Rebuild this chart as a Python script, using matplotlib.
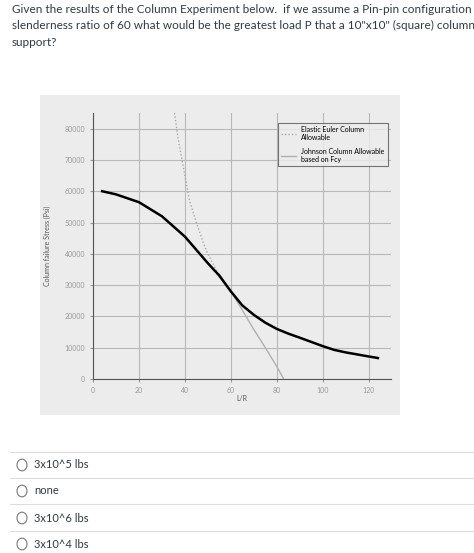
import matplotlib
matplotlib.use("Agg")
import matplotlib.pyplot as plt
from matplotlib.patches import Circle
from matplotlib.lines import Line2D

plt.rcParams['font.family'] = ['Lato', 'DejaVu Sans']

question = ("Given the results of the Column Experiment below.  if we assume a Pin-pin configuration and a\n"
            "slenderness ratio of 60 what would be the greatest load P that a 10\"x10\" (square) column can\n"
            "support?")
options = ["3x10^5 lbs", "none", "3x10^6 lbs", "3x10^4 lbs"]

lr_actual = [4, 10, 20, 30, 40, 50, 55, 60, 65, 70, 75, 80, 85, 90, 100, 105, 110, 120, 124]
stress_actual = [60000, 59000, 56500, 52000, 45500, 37000, 33000, 28000, 23500, 20500, 18000,
                 16000, 14500, 13200, 10500, 9300, 8500, 7200, 6700]
lr_euler = [35.5, 37, 40, 42, 45, 48, 50, 55, 60]
stress_euler = [85000, 77000, 65000, 57000, 50000, 43500, 40000, 33000, 28000]
lr_johnson = [55, 60, 65, 70, 75, 80, 83]
stress_johnson = [33500, 28000, 22000, 15800, 10000, 4000, 0]

W, H = 474, 553
fig = plt.figure(figsize=(W/100, H/100), dpi=100)
fig.patch.set_facecolor('white')

fig.text(12/W, 1-4/H, question, ha='left', va='top', fontsize=8.5, color='#2d3b45', linespacing=1.6)

bg = fig.add_axes([40/W, 1-415/H, 360/W, 320/H], zorder=-5)
bg.set_facecolor('#ececec')
bg.set_xticks([]); bg.set_yticks([])
for s in bg.spines.values():
    s.set_visible(False)

ax = fig.add_axes([93/W, 1-379/H, (391-93)/W, (379-113)/H], zorder=1)
ax.set_facecolor('#ececec')
ax.plot(lr_euler, stress_euler, linestyle=(0, (1, 1.5)), color='#a8a8a8', lw=1)
ax.plot(lr_johnson, stress_johnson, color='#b0b0b0', lw=1)
ax.plot(lr_actual, stress_actual, color='black', lw=1.8)
ax.set_xlim(0, 129.7)
ax.set_ylim(0, 85000)
ax.set_xticks(range(0, 121, 20))
ax.set_yticks(range(0, 80001, 10000))
ax.grid(True, color='#b8b8b8', lw=0.8)
for s in ['top', 'right']:
    ax.spines[s].set_visible(False)
for s in ['left', 'bottom']:
    ax.spines[s].set_color('#555555')
ax.tick_params(labelsize=5, colors='#999999', length=2)
ax.set_xlabel('L/R', fontsize=5, color='#555555', labelpad=1)
ax.set_ylabel('Column failure Stress (Psi)', fontsize=5, color='#555555', labelpad=10)

h1 = Line2D([], [], linestyle=(0, (1, 1.5)), color='#a8a8a8', lw=1)
h2 = Line2D([], [], color='#b0b0b0', lw=1)
leg = ax.legend([h1, h2], ['Elastic Euler Column\nAllowable', 'Johnson Column Allowable\nbased on Fcy'],
                loc='upper right', bbox_to_anchor=(1.0, 0.975), fontsize=5, frameon=True, fancybox=False,
                edgecolor='#555555', facecolor='#ececec', handlelength=2.2, labelspacing=1.0)
leg.get_frame().set_linewidth(0.8)

ys = [465, 491, 518, 544]
for opt, y in zip(options, ys):
    fig.patches.append(Circle((22/W, 1-y/H), 5/W, transform=fig.transFigure,
                              facecolor='white', edgecolor='#777777', lw=0.8))
    fig.text(34/W, 1-y/H, opt, ha='left', va='center', fontsize=8, color='#2d3b45')
    fig.add_artist(Line2D([10/W, 474/W], [1-(y+13)/H]*2, color='#dddddd', lw=0.8))
fig.add_artist(Line2D([10/W, 474/W], [1-452/H]*2, color='#dddddd', lw=0.8))

fig.savefig('out.png', dpi=100)
